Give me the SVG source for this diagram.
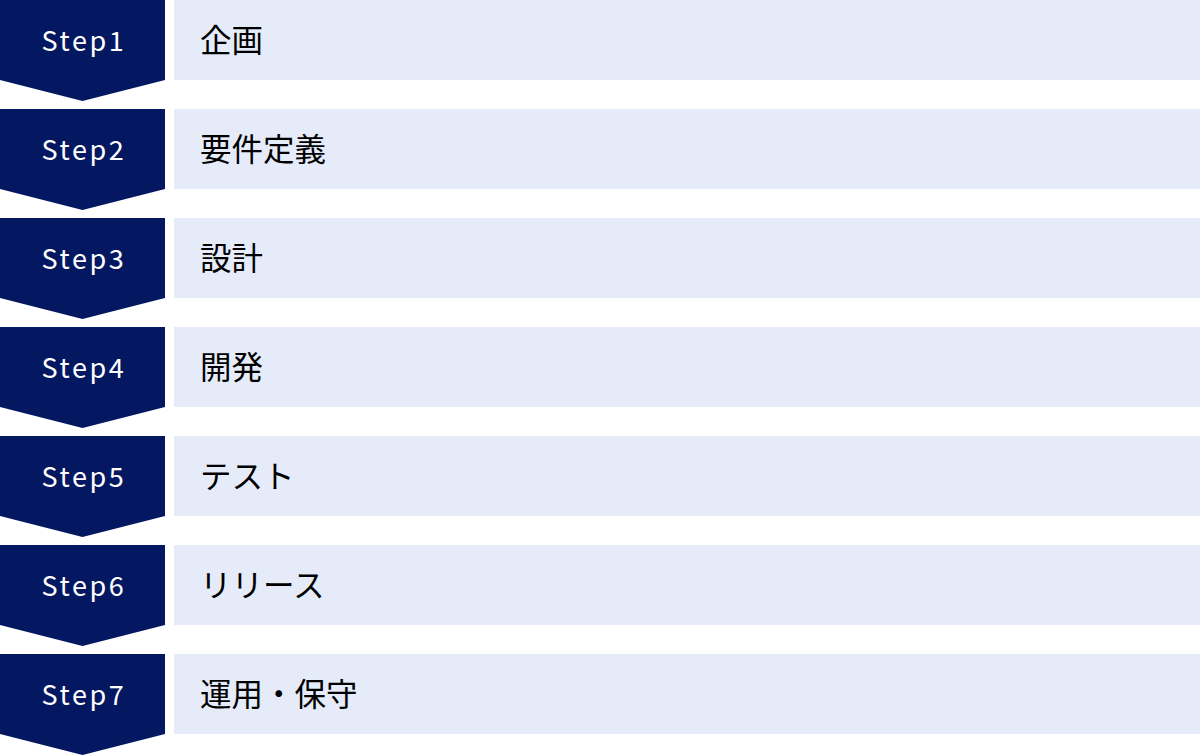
<svg xmlns="http://www.w3.org/2000/svg" width="1200" height="756" viewBox="0 0 1200 756">
<style>
.chev{fill:#041862}
.box{fill:#e5ebf8}
.st{font-family:"Noto Sans CJK JP","Noto Sans",sans-serif;font-size:27px;font-weight:400;fill:#fff;text-anchor:middle;letter-spacing:2.6px}
.lb{font-family:"Noto Sans CJK JP","Noto Sans",sans-serif;font-size:31.5px;font-weight:400;fill:#000}
</style>
<defs>
<polygon id="cv" points="0,0 165,0 165,80 82.5,101 0,80"/>
</defs>
<rect width="1200" height="756" fill="#fff"/>
<g id="step1" transform="translate(0,0)"><use href="#cv" class="chev"/><rect class="box" x="174" y="0" width="1026" height="80"/><text class="st" x="84" y="51">Step1</text><text class="lb" x="200" y="52">企画</text></g>
<g id="step2" transform="translate(0,109)"><use href="#cv" class="chev"/><rect class="box" x="174" y="0" width="1026" height="80"/><text class="st" x="84" y="51">Step2</text><text class="lb" x="200" y="52">要件定義</text></g>
<g id="step3" transform="translate(0,218)"><use href="#cv" class="chev"/><rect class="box" x="174" y="0" width="1026" height="80"/><text class="st" x="84" y="51">Step3</text><text class="lb" x="200" y="52">設計</text></g>
<g id="step4" transform="translate(0,327)"><use href="#cv" class="chev"/><rect class="box" x="174" y="0" width="1026" height="80"/><text class="st" x="84" y="51">Step4</text><text class="lb" x="200" y="52">開発</text></g>
<g id="step5" transform="translate(0,436)"><use href="#cv" class="chev"/><rect class="box" x="174" y="0" width="1026" height="80"/><text class="st" x="84" y="51">Step5</text><text class="lb" x="200" y="52">テスト</text></g>
<g id="step6" transform="translate(0,545)"><use href="#cv" class="chev"/><rect class="box" x="174" y="0" width="1026" height="80"/><text class="st" x="84" y="51">Step6</text><text class="lb" x="200" y="52">リリース</text></g>
<g id="step7" transform="translate(0,654)"><use href="#cv" class="chev"/><rect class="box" x="174" y="0" width="1026" height="80"/><text class="st" x="84" y="51">Step7</text><text class="lb" x="200" y="52">運用・保守</text></g>
<g id="connectors"></g>
</svg>
